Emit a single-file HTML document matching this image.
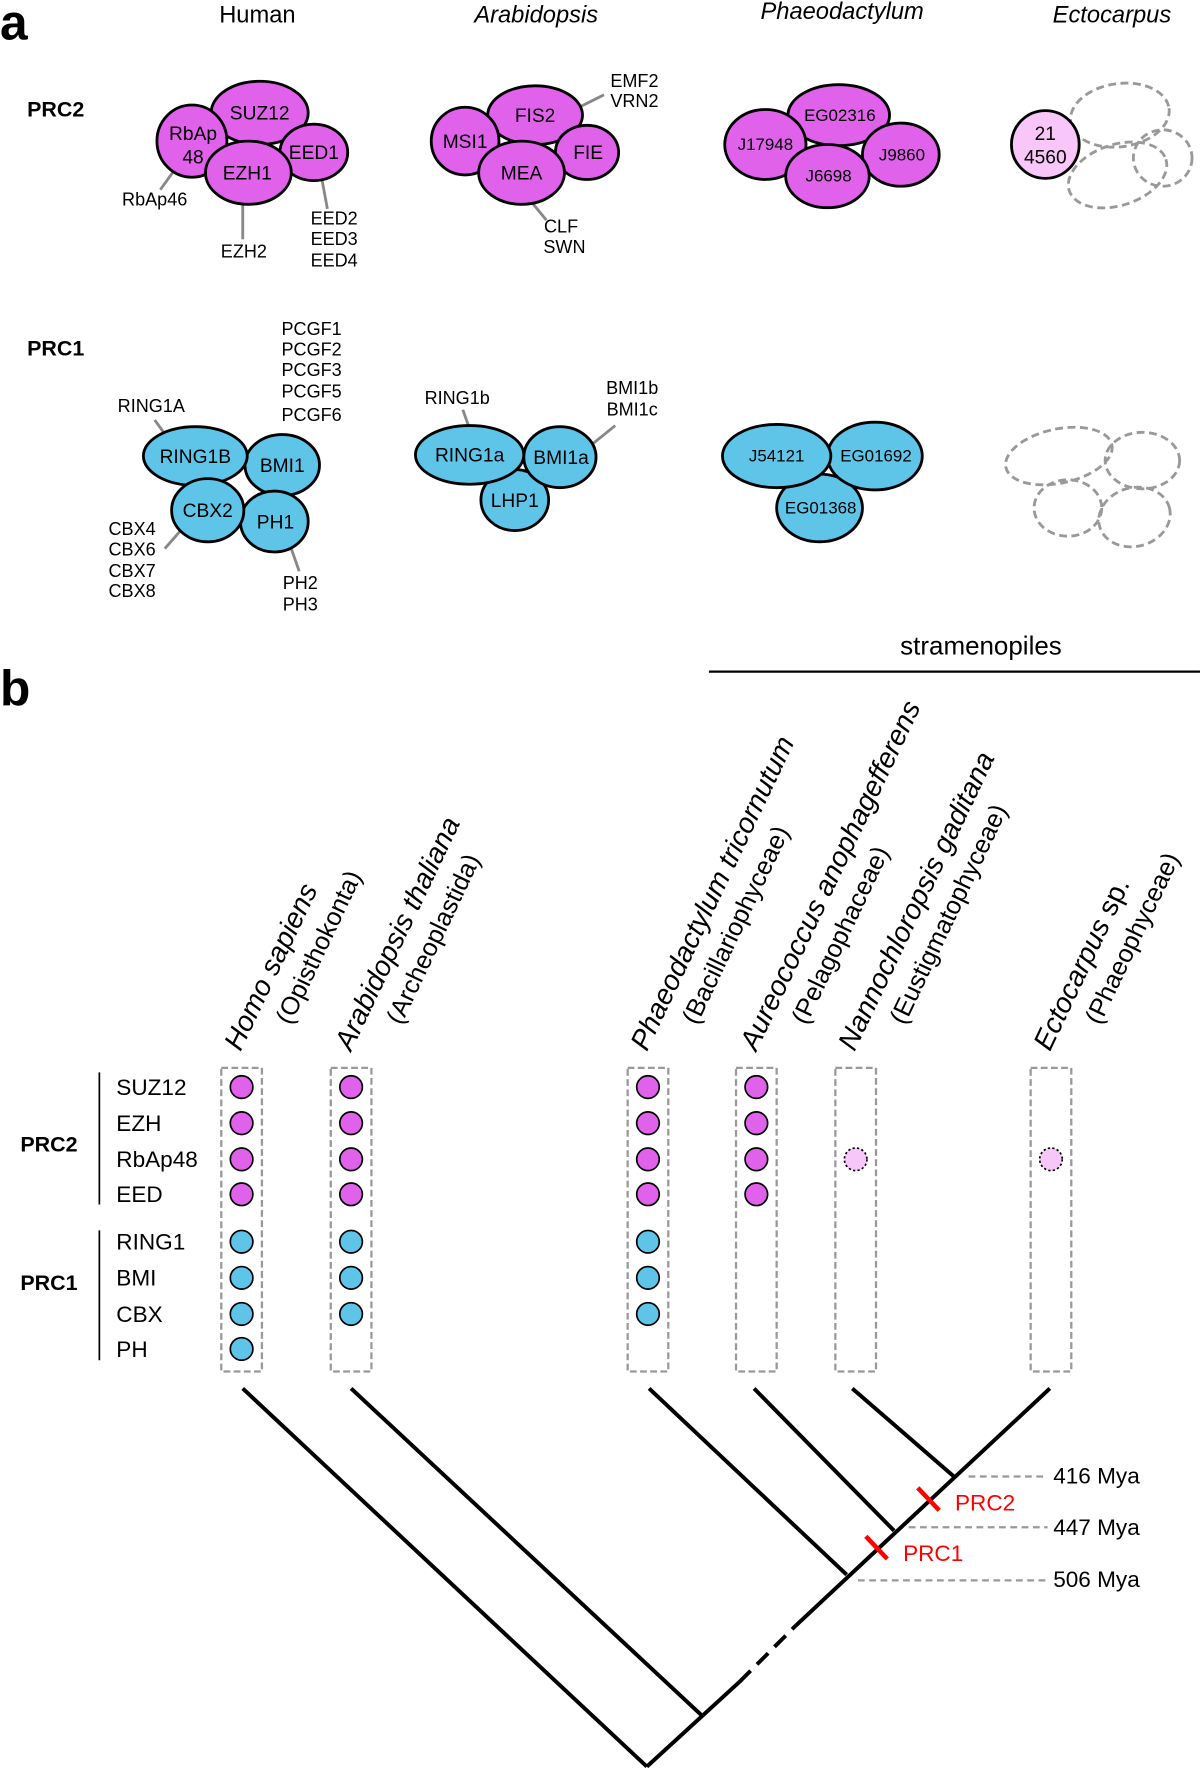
<!DOCTYPE html>
<html><head><meta charset="utf-8"><style>
html,body{margin:0;padding:0;background:#fff;}
svg{display:block;}
text{font-family:"Liberation Sans",Arial,sans-serif;fill:#000;}
.m{fill:#e062ea;stroke:#000;stroke-width:2.5;}
.b{fill:#5ec5e8;stroke:#000;stroke-width:2.5;}
.d{fill:none;stroke:#999;stroke-width:2.5;stroke-dasharray:7 4;}
.g{stroke:#888;stroke-width:2.5;}
.t{font-size:17px;text-anchor:middle;}
.s{font-size:16px;text-anchor:middle;}
.br{stroke:#000;stroke-width:3.5;fill:none;}
</style></head><body>
<svg width="1200" height="1770" viewBox="0 0 1063 1568" xmlns="http://www.w3.org/2000/svg">
<text x="0" y="35" style="font-size:44px;font-weight:bold">a</text>
<text x="228" y="20" style="font-size:21px;text-anchor:middle">Human</text>
<text x="475" y="20" style="font-size:21px;text-anchor:middle;font-style:italic">Arabidopsis</text>
<text x="746" y="17" style="font-size:21px;text-anchor:middle;font-style:italic">Phaeodactylum</text>
<text x="985" y="20" style="font-size:21px;text-anchor:middle;font-style:italic">Ectocarpus</text>
<text x="24" y="103" style="font-size:19px;font-weight:bold">PRC2</text>
<text x="24" y="315" style="font-size:19px;font-weight:bold">PRC1</text>

<!-- Human PRC2 -->
<line class="g" x1="155" y1="150" x2="142" y2="168"/>
<line class="g" x1="215" y1="178" x2="215" y2="212"/>
<line class="g" x1="285" y1="158" x2="290" y2="185"/>
<ellipse class="m" cx="230" cy="100" rx="43" ry="28"/>
<ellipse class="m" cx="278" cy="135" rx="30" ry="25"/>
<ellipse class="m" cx="170" cy="125" rx="31" ry="32"/>
<ellipse class="m" cx="220" cy="153" rx="38" ry="28"/>
<text class="t" x="230" y="106">SUZ12</text>
<text class="t" x="278" y="141">EED1</text>
<text class="t" x="171" y="124">RbAp</text>
<text class="t" x="171" y="145">48</text>
<text class="t" x="219" y="159">EZH1</text>
<text class="s" x="137" y="182">RbAp46</text>
<text class="s" x="216" y="228">EZH2</text>
<text class="s" x="296" y="199">EED2</text>
<text class="s" x="296" y="217">EED3</text>
<text class="s" x="296" y="236">EED4</text>

<!-- Arabidopsis PRC2 -->
<line class="g" x1="513" y1="95" x2="535" y2="84"/>
<line class="g" x1="470" y1="178" x2="484" y2="195"/>
<ellipse class="m" cx="474" cy="102" rx="42" ry="26"/>
<ellipse class="m" cx="520" cy="135" rx="28" ry="24"/>
<ellipse class="m" cx="412" cy="125" rx="30" ry="30"/>
<ellipse class="m" cx="462" cy="153" rx="38" ry="28"/>
<text class="t" x="474" y="108">FIS2</text>
<text class="t" x="521" y="141">FIE</text>
<text class="t" x="412" y="131">MSI1</text>
<text class="t" x="462" y="159">MEA</text>
<text class="s" x="562" y="77">EMF2</text>
<text class="s" x="562" y="95">VRN2</text>
<text class="s" x="497" y="206">CLF</text>
<text class="s" x="500" y="224">SWN</text>

<!-- Phaeo PRC2 -->
<ellipse class="m" cx="743" cy="102" rx="45" ry="27"/>
<ellipse class="m" cx="798" cy="137" rx="34" ry="28"/>
<ellipse class="m" cx="678" cy="128" rx="36" ry="31"/>
<ellipse class="m" cx="733" cy="156" rx="37" ry="28"/>
<text class="s" x="744" y="107" style="font-size:15px">EG02316</text>
<text class="s" x="799" y="142" style="font-size:15px">J9860</text>
<text class="s" x="678" y="133" style="font-size:15px">J17948</text>
<text class="s" x="734" y="161" style="font-size:15px">J6698</text>

<!-- Ecto PRC2 -->
<ellipse class="d" cx="992" cy="102" rx="44" ry="28" transform="rotate(-8 992 102)"/>
<ellipse class="d" cx="1030" cy="140" rx="26" ry="25"/>
<ellipse class="d" cx="990" cy="155" rx="45" ry="27" transform="rotate(-18 990 155)"/>
<circle cx="926" cy="128" r="30" fill="#f9c6f9" stroke="#000" stroke-width="2.5"/>
<text class="t" x="926" y="124">21</text>
<text class="t" x="926" y="145">4560</text>

<!-- Human PRC1 -->
<text class="s" x="276" y="297">PCGF1</text>
<text class="s" x="276" y="315">PCGF2</text>
<text class="s" x="276" y="333">PCGF3</text>
<text class="s" x="276" y="352">PCGF5</text>
<text class="s" x="276" y="373">PCGF6</text>
<text class="s" x="134" y="365">RING1A</text>
<line class="g" x1="137" y1="372" x2="150" y2="390"/>
<line class="g" x1="160" y1="470" x2="146" y2="486"/>
<line class="g" x1="258" y1="486" x2="265" y2="506"/>
<ellipse class="b" cx="250" cy="412" rx="33" ry="27"/>
<ellipse class="b" cx="173" cy="404" rx="46" ry="26"/>
<ellipse class="b" cx="243" cy="462" rx="30" ry="27"/>
<ellipse class="b" cx="184" cy="452" rx="32" ry="28"/>
<text class="t" x="250" y="418">BMI1</text>
<text class="t" x="173" y="410">RING1B</text>
<text class="t" x="244" y="468">PH1</text>
<text class="t" x="184" y="458">CBX2</text>
<text class="s" x="117" y="474">CBX4</text>
<text class="s" x="117" y="492">CBX6</text>
<text class="s" x="117" y="511">CBX7</text>
<text class="s" x="117" y="529">CBX8</text>
<text class="s" x="266" y="522">PH2</text>
<text class="s" x="266" y="541">PH3</text>

<!-- Arabidopsis PRC1 -->
<text class="s" x="405" y="358">RING1b</text>
<line class="g" x1="410" y1="363" x2="416" y2="380"/>
<text class="s" x="560" y="349">BMI1b</text>
<text class="s" x="560" y="368">BMI1c</text>
<line class="g" x1="524" y1="394" x2="545" y2="377"/>
<ellipse class="b" cx="456" cy="443" rx="30" ry="27"/>
<ellipse class="b" cx="496" cy="405" rx="32" ry="27"/>
<ellipse class="b" cx="416" cy="403" rx="48" ry="26"/>
<text class="t" x="456" y="449">LHP1</text>
<text class="t" x="497" y="411">BMI1a</text>
<text class="t" x="416" y="409">RING1a</text>

<!-- Phaeo PRC1 -->
<ellipse class="b" cx="726" cy="450" rx="38" ry="30"/>
<ellipse class="b" cx="775" cy="404" rx="42" ry="30"/>
<ellipse class="b" cx="688" cy="404" rx="48" ry="28"/>
<text class="s" x="727" y="455" style="font-size:15px">EG01368</text>
<text class="s" x="776" y="409" style="font-size:15px">EG01692</text>
<text class="s" x="688" y="409" style="font-size:15px">J54121</text>

<!-- Ecto PRC1 -->
<ellipse class="d" cx="938" cy="404" rx="48" ry="24" transform="rotate(-12 938 404)"/>
<ellipse class="d" cx="1012" cy="408" rx="33" ry="25"/>
<ellipse class="d" cx="946" cy="450" rx="30" ry="25"/>
<ellipse class="d" cx="1005" cy="458" rx="32" ry="26" transform="rotate(-15 1005 458)"/>

<!-- Part b -->
<text x="0" y="625" style="font-size:44px;font-weight:bold">b</text>
<text x="869" y="580" style="font-size:23px;text-anchor:middle">stramenopiles</text>
<line x1="628" y1="595" x2="1063" y2="595" stroke="#000" stroke-width="2"/>

<g style="font-size:25px">
<g transform="translate(213,932) rotate(-64.5)"><text style="font-style:italic">Homo sapiens</text><text x="40" y="30" style="font-size:22.5px">(Opisthokonta)</text></g>
<g transform="translate(311,932) rotate(-64.5)"><text style="font-style:italic">Arabidopsis thaliana</text><text x="40" y="30" style="font-size:22.5px">(Archeoplastida)</text></g>
<g transform="translate(573,932) rotate(-64.5)"><text style="font-style:italic">Phaeodactylum tricornutum</text><text x="40" y="30" style="font-size:22.5px">(Bacillariophyceae)</text></g>
<g transform="translate(670,932) rotate(-64.5)"><text style="font-style:italic">Aureococcus anophagefferens</text><text x="40" y="30" style="font-size:22.5px">(Pelagophaceae)</text></g>
<g transform="translate(757,932) rotate(-64.5)"><text style="font-style:italic">Nannochloropsis gaditana</text><text x="40" y="30" style="font-size:22.5px">(Eustigmatophyceae)</text></g>
<g transform="translate(930,932) rotate(-64.5)"><text><tspan style="font-style:italic">Ectocarpus</tspan> sp.</text><text x="40" y="30" style="font-size:22.5px">(Phaeophyceae)</text></g>
</g>

<g style="font-size:20px">
<text x="103" y="970">SUZ12</text><text x="103" y="1002">EZH</text><text x="103" y="1034">RbAp48</text><text x="103" y="1065">EED</text>
<text x="103" y="1107">RING1</text><text x="103" y="1139">BMI</text><text x="103" y="1171">CBX</text><text x="103" y="1202">PH</text>
</g>
<text x="18" y="1020" style="font-size:19px;font-weight:bold">PRC2</text>
<text x="18" y="1143" style="font-size:19px;font-weight:bold">PRC1</text>
<line x1="88" y1="950" x2="88" y2="1067" stroke="#000" stroke-width="1.5"/>
<line x1="88" y1="1090" x2="88" y2="1205" stroke="#000" stroke-width="1.5"/>

<g class="d" style="stroke-width:2;stroke-dasharray:6 3">
<rect x="196" y="946" width="36" height="269"/>
<rect x="293" y="946" width="36" height="269"/>
<rect x="556" y="946" width="36" height="269"/>
<rect x="652" y="946" width="36" height="269"/>
<rect x="740" y="946" width="36" height="269"/>
<rect x="913" y="946" width="36" height="269"/>
</g>
<g stroke="#000" stroke-width="1.5">
<g fill="#e062ea">
<circle cx="214" cy="963" r="10"/><circle cx="214" cy="995" r="10"/><circle cx="214" cy="1027" r="10"/><circle cx="214" cy="1058" r="10"/>
<circle cx="311" cy="963" r="10"/><circle cx="311" cy="995" r="10"/><circle cx="311" cy="1027" r="10"/><circle cx="311" cy="1058" r="10"/>
<circle cx="574" cy="963" r="10"/><circle cx="574" cy="995" r="10"/><circle cx="574" cy="1027" r="10"/><circle cx="574" cy="1058" r="10"/>
<circle cx="670" cy="963" r="10"/><circle cx="670" cy="995" r="10"/><circle cx="670" cy="1027" r="10"/><circle cx="670" cy="1058" r="10"/>
</g>
<g fill="#5ec5e8">
<circle cx="214" cy="1100" r="10"/><circle cx="214" cy="1132" r="10"/><circle cx="214" cy="1164" r="10"/><circle cx="214" cy="1195" r="10"/>
<circle cx="311" cy="1100" r="10"/><circle cx="311" cy="1132" r="10"/><circle cx="311" cy="1164" r="10"/>
<circle cx="574" cy="1100" r="10"/><circle cx="574" cy="1132" r="10"/><circle cx="574" cy="1164" r="10"/>
</g>
<g fill="#f9c6f9" stroke-dasharray="2 2">
<circle cx="758" cy="1027" r="10"/><circle cx="931" cy="1027" r="10"/>
</g>
</g>

<!-- tree -->
<line class="br" x1="215" y1="1230" x2="573" y2="1565"/>
<line class="br" x1="311" y1="1230" x2="622" y2="1520"/>
<line class="br" x1="575" y1="1230" x2="750" y2="1395"/>
<line class="br" x1="668" y1="1230" x2="792" y2="1356"/>
<line class="br" x1="755" y1="1230" x2="845" y2="1308"/>
<polyline class="br" points="573,1565 655,1490"/>
<line class="br" x1="655" y1="1490" x2="705" y2="1440" stroke-dasharray="14 8"/>
<line class="br" x1="705" y1="1440" x2="930" y2="1230"/>
<g stroke="#999" stroke-width="2" stroke-dasharray="6 4">
<line x1="858" y1="1308" x2="928" y2="1308"/>
<line x1="805" y1="1353" x2="928" y2="1353"/>
<line x1="760" y1="1400" x2="928" y2="1400"/>
</g>
<g style="font-size:20px">
<text x="933" y="1314">416 Mya</text>
<text x="933" y="1360">447 Mya</text>
<text x="933" y="1406">506 Mya</text>
</g>
<line x1="813" y1="1318" x2="832" y2="1338" stroke="#f00" stroke-width="4"/>
<line x1="767" y1="1361" x2="786" y2="1381" stroke="#f00" stroke-width="4"/>
<text x="846" y="1338" style="font-size:20px;fill:#f00">PRC2</text>
<text x="800" y="1383" style="font-size:20px;fill:#f00">PRC1</text>
</svg>
</body></html>
